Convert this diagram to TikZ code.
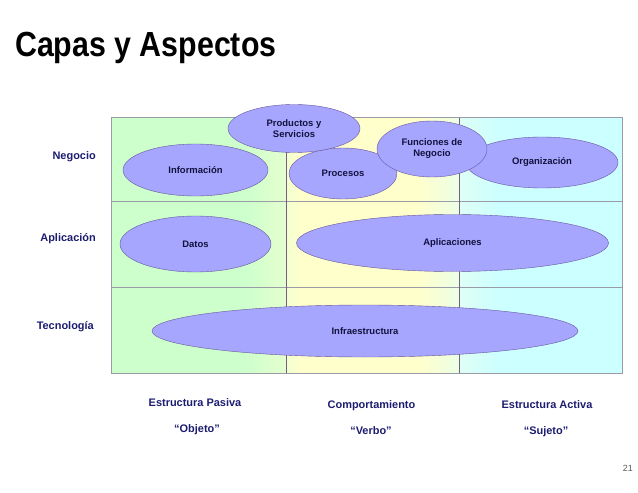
\documentclass[tikz,border=0pt]{standalone}
\usepackage{fontspec}
\setmainfont{Liberation Sans}
\newfontfamily\titlefont[FakeStretch=0.87]{Liberation Sans}
\usepackage{xcolor}
\usepackage{tikz}
\usetikzlibrary{shapes}
\usetikzlibrary{positioning}

\definecolor{verde}{RGB}{204,255,204}
\definecolor{verdeclaro}{RGB}{228,255,206}
\definecolor{amarilloclaro}{RGB}{242,255,208}
\definecolor{amarillo}{RGB}{255,255,204}
\definecolor{cianclaro}{RGB}{236,255,228}
\definecolor{cianmedio}{RGB}{222,255,245}
\definecolor{cian}{RGB}{204,255,255}
\definecolor{elipse}{RGB}{166,166,255}
\definecolor{borde}{RGB}{104,84,156}
\definecolor{marino}{RGB}{28,28,112}
\definecolor{tinta}{RGB}{18,18,62}
\definecolor{linea}{RGB}{155,155,168}
\definecolor{divisor}{RGB}{116,94,132}

\pgfdeclarehorizontalshading{capas}{100bp}{color(0bp)=(verde); color(38bp)=(verde); color(42.1bp)=(verdeclaro); color(42.2bp)=(amarilloclaro); color(43.6bp)=(amarillo); color(55bp)=(amarillo); color(59bp)=(cianclaro); color(59.1bp)=(cianmedio); color(63bp)=(cian); color(100bp)=(cian)}

\begin{document}
\begin{tikzpicture}[x=1bp,y=-1bp,capa/.style={anchor=base east,inner sep=0,text=marino,font=\fontsize{11}{13}\selectfont\bfseries},aspecto/.style={anchor=base,inner sep=0,text=marino,font=\fontsize{11}{13}\selectfont\bfseries}]
  \useasboundingbox (0,0) rectangle (638,493);
  \node[anchor=base west,inner sep=0,font=\titlefont\fontsize{35}{40}\selectfont\bfseries] (titulo) at (15,57) {Capas y Aspectos};

  \shade[shading=capas] (111,118) rectangle (622,373);
  \draw[linea,line width=1bp] (111,118) rectangle (622,373);
  \draw[linea,line width=1bp] (111,202) -- (622,202) (111,287) -- (622,287);
  \draw[divisor,line width=1bp] (286,118) -- (286,373) (459,118) -- (459,373);

  \node[capa] (negocio) at (96,160) {Negocio};
  \node[capa] (aplicacion) at (96,242) {Aplicación};
  \node[capa] (tecnologia) at (94,329) {Tecnología};

  \begin{scope}[every node/.style={ellipse,draw=borde,fill=elipse,inner sep=0,align=center,text=tinta,font=\fontsize{9.5}{11}\selectfont\bfseries}]
    \node[minimum width=145bp,minimum height=52bp] (info) at (195.5,170) {Información};
    \node[minimum width=108bp,minimum height=51bp] (procesos) at (343,173.5) {Procesos};
    \node[minimum width=152bp,minimum height=51bp] (organizacion) at (542,162.5) {Organización};
    \node[minimum width=132bp,minimum height=48bp] (productos) at (294,128.5) {Productos y\\Servicios};
    \node[minimum width=110bp,minimum height=56bp] (funciones) at (432,149) {Funciones de\\Negocio};
    \node[minimum width=151bp,minimum height=56bp] (datos) at (195.5,244) {Datos};
    \node[minimum width=312bp,minimum height=57bp] (aplicaciones) at (452.5,243) {Aplicaciones};
    \node[minimum width=426bp,minimum height=52bp] (infra) at (365,331) {Infraestructura};
  \end{scope}

  \node[aspecto] (pasiva) at (195,406) {Estructura Pasiva};
  \node[aspecto] (objeto) at (197,432) {“Objeto”};
  \node[aspecto] (comport) at (371.5,408) {Comportamiento};
  \node[aspecto] (verbo) at (371,434) {“Verbo”};
  \node[aspecto] (activa) at (547,408) {Estructura Activa};
  \node[aspecto] (sujeto) at (546,434) {“Sujeto”};

  \node[anchor=base east,inner sep=0,text=black!65,font=\fontsize{9}{11}\selectfont] (pagina) at (633,471) {21};
\end{tikzpicture}
\end{document}
